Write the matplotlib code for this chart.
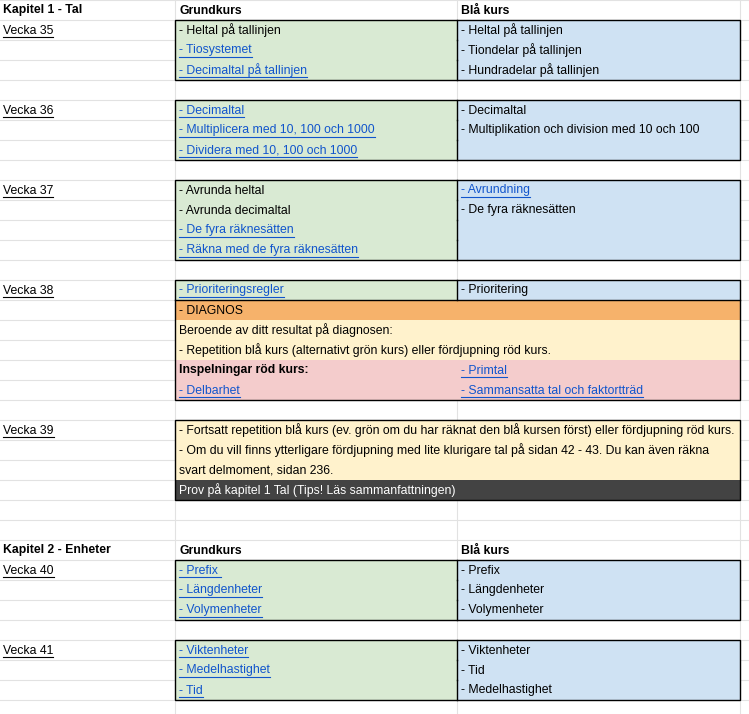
import matplotlib
matplotlib.use("Agg")
import matplotlib.pyplot as plt
from matplotlib.patches import Rectangle

col_a = ["Kapitel 1 - Tal", "Vecka 35", "", "", "", "Vecka 36", "", "", "", "Vecka 37", "", "", "", "",
         "Vecka 38", "", "", "", "", "", "", "Vecka 39", "", "", "", "", "",
         "Kapitel 2 - Enheter", "Vecka 40", "", "", "", "Vecka 41", "", "", ""]
col_b = ["Grundkurs", "- Heltal på tallinjen", "- Tiosystemet", "- Decimaltal på tallinjen", "",
         "- Decimaltal", "- Multiplicera med 10, 100 och 1000", "- Dividera med 10, 100 och 1000", "",
         "- Avrunda heltal", "- Avrunda decimaltal", "- De fyra räknesätten", "- Räkna med de fyra räknesätten", "",
         "- Prioriteringsregler", "- DIAGNOS", "Beroende av ditt resultat på diagnosen:",
         "- Repetition blå kurs (alternativt grön kurs) eller fördjupning röd kurs.",
         "Inspelningar röd kurs:", "- Delbarhet", "",
         "- Fortsatt repetition blå kurs (ev. grön om du har räknat den blå kursen först) eller fördjupning röd kurs.",
         "- Om du vill finns ytterligare fördjupning med lite klurigare tal på sidan 42 - 43. Du kan även räkna",
         "svart delmoment, sidan 236.", "Prov på kapitel 1 Tal (Tips! Läs sammanfattningen)", "", "",
         "Grundkurs", "- Prefix ", "- Längdenheter", "- Volymenheter", "",
         "- Viktenheter", "- Medelhastighet", "- Tid", ""]
col_c = ["Blå kurs", "- Heltal på tallinjen", "- Tiondelar på tallinjen", "- Hundradelar på tallinjen", "",
         "- Decimaltal", "- Multiplikation och division med 10 och 100", "", "",
         "- Avrundning", "- De fyra räknesätten", "", "", "",
         "- Prioritering", "", "", "", "- Primtal", "- Sammansatta tal och faktortträd", "",
         "", "", "", "", "", "",
         "Blå kurs", "- Prefix", "- Längdenheter", "- Volymenheter", "",
         "- Viktenheter", "- Tid", "- Medelhastighet", ""]
links_b = {2, 3, 5, 6, 7, 11, 12, 14, 19, 28, 29, 30, 32, 33, 34}
links_c = {9, 18, 19}
header_rows = {0, 27}

GREEN, BLUE, ORANGE, YELLOW, PINK, DARK = "#d9ead3", "#cfe2f3", "#f6b26b", "#fff2cc", "#f4cccc", "#434343"
LINK = "#1155cc"
RH = 20
XA, XB, XC, XE = 0, 175, 457, 740
W, H = 749, 714

fig = plt.figure(figsize=(W/100, H/100), dpi=100)
ax = fig.add_axes([0, 0, 1, 1])
ax.set_xlim(0, W); ax.set_ylim(H, 0); ax.axis("off")

split_rows = {1,2,3,5,6,7,9,10,11,12,14,28,29,30,32,33,34}
span_fill = {15: ORANGE, 16: YELLOW, 17: YELLOW, 18: PINK, 19: PINK,
             21: YELLOW, 22: YELLOW, 23: YELLOW, 24: DARK}
blocks = [(1,3),(5,7),(9,12),(14,19),(21,24),(28,30),(32,34)]

for r in range(len(col_a)+1):
    ax.plot([0, W], [r*RH, r*RH], color="#e2e2e2", lw=0.8, zorder=1)
for x in (XB, XC, XE):
    ax.plot([x, x], [0, H], color="#e2e2e2", lw=0.8, zorder=1)

for r in range(len(col_a)):
    y = r*RH
    if r in split_rows:
        ax.add_patch(Rectangle((XB, y), XC-XB, RH, color=GREEN, zorder=2, lw=0))
        ax.add_patch(Rectangle((XC, y), XE-XC, RH, color=BLUE, zorder=2, lw=0))
        ax.plot([XC, XC], [y, y+RH], color="black", lw=1, zorder=4)
    elif r in span_fill:
        ax.add_patch(Rectangle((XB, y), XE-XB, RH, color=span_fill[r], zorder=2, lw=0))
for a, b in blocks:
    ax.add_patch(Rectangle((XB, a*RH), XE-XB, (b-a+1)*RH, fill=False, ec="black", lw=1, zorder=5))
ax.plot([XB, XE], [15*RH, 15*RH], color="black", lw=1, zorder=5)

fig.canvas.draw()
rend = fig.canvas.get_renderer()
inv = ax.transData.inverted()

def put(x, r, s, color="black", bold=False, underline=False):
    if not s:
        return
    yc = r*RH + RH/2 + 0.5
    t = ax.text(x, yc, s, fontsize=8.8, family="Liberation Sans", color=color,
                fontweight="bold" if bold else "normal", va="center", ha="left", zorder=6)
    if underline:
        bb = t.get_window_extent(renderer=rend)
        x1 = inv.transform((bb.x1, 0))[0]
        ax.plot([x, x1], [yc+6, yc+6], color=color, lw=0.8, zorder=6)

for r in range(len(col_a)):
    hb = r in header_rows
    put(3, r, col_a[r], bold=hb, underline=(not hb and bool(col_a[r])))
    bcolor = "white" if r == 24 else (LINK if r in links_b else "black")
    put(XB+4, r, col_b[r], color=bcolor, bold=(hb or r == 18), underline=r in links_b)
    put(XC+4, r, col_c[r], color=LINK if r in links_c else "black", bold=hb, underline=r in links_c)

fig.savefig("out.png", dpi=100)
